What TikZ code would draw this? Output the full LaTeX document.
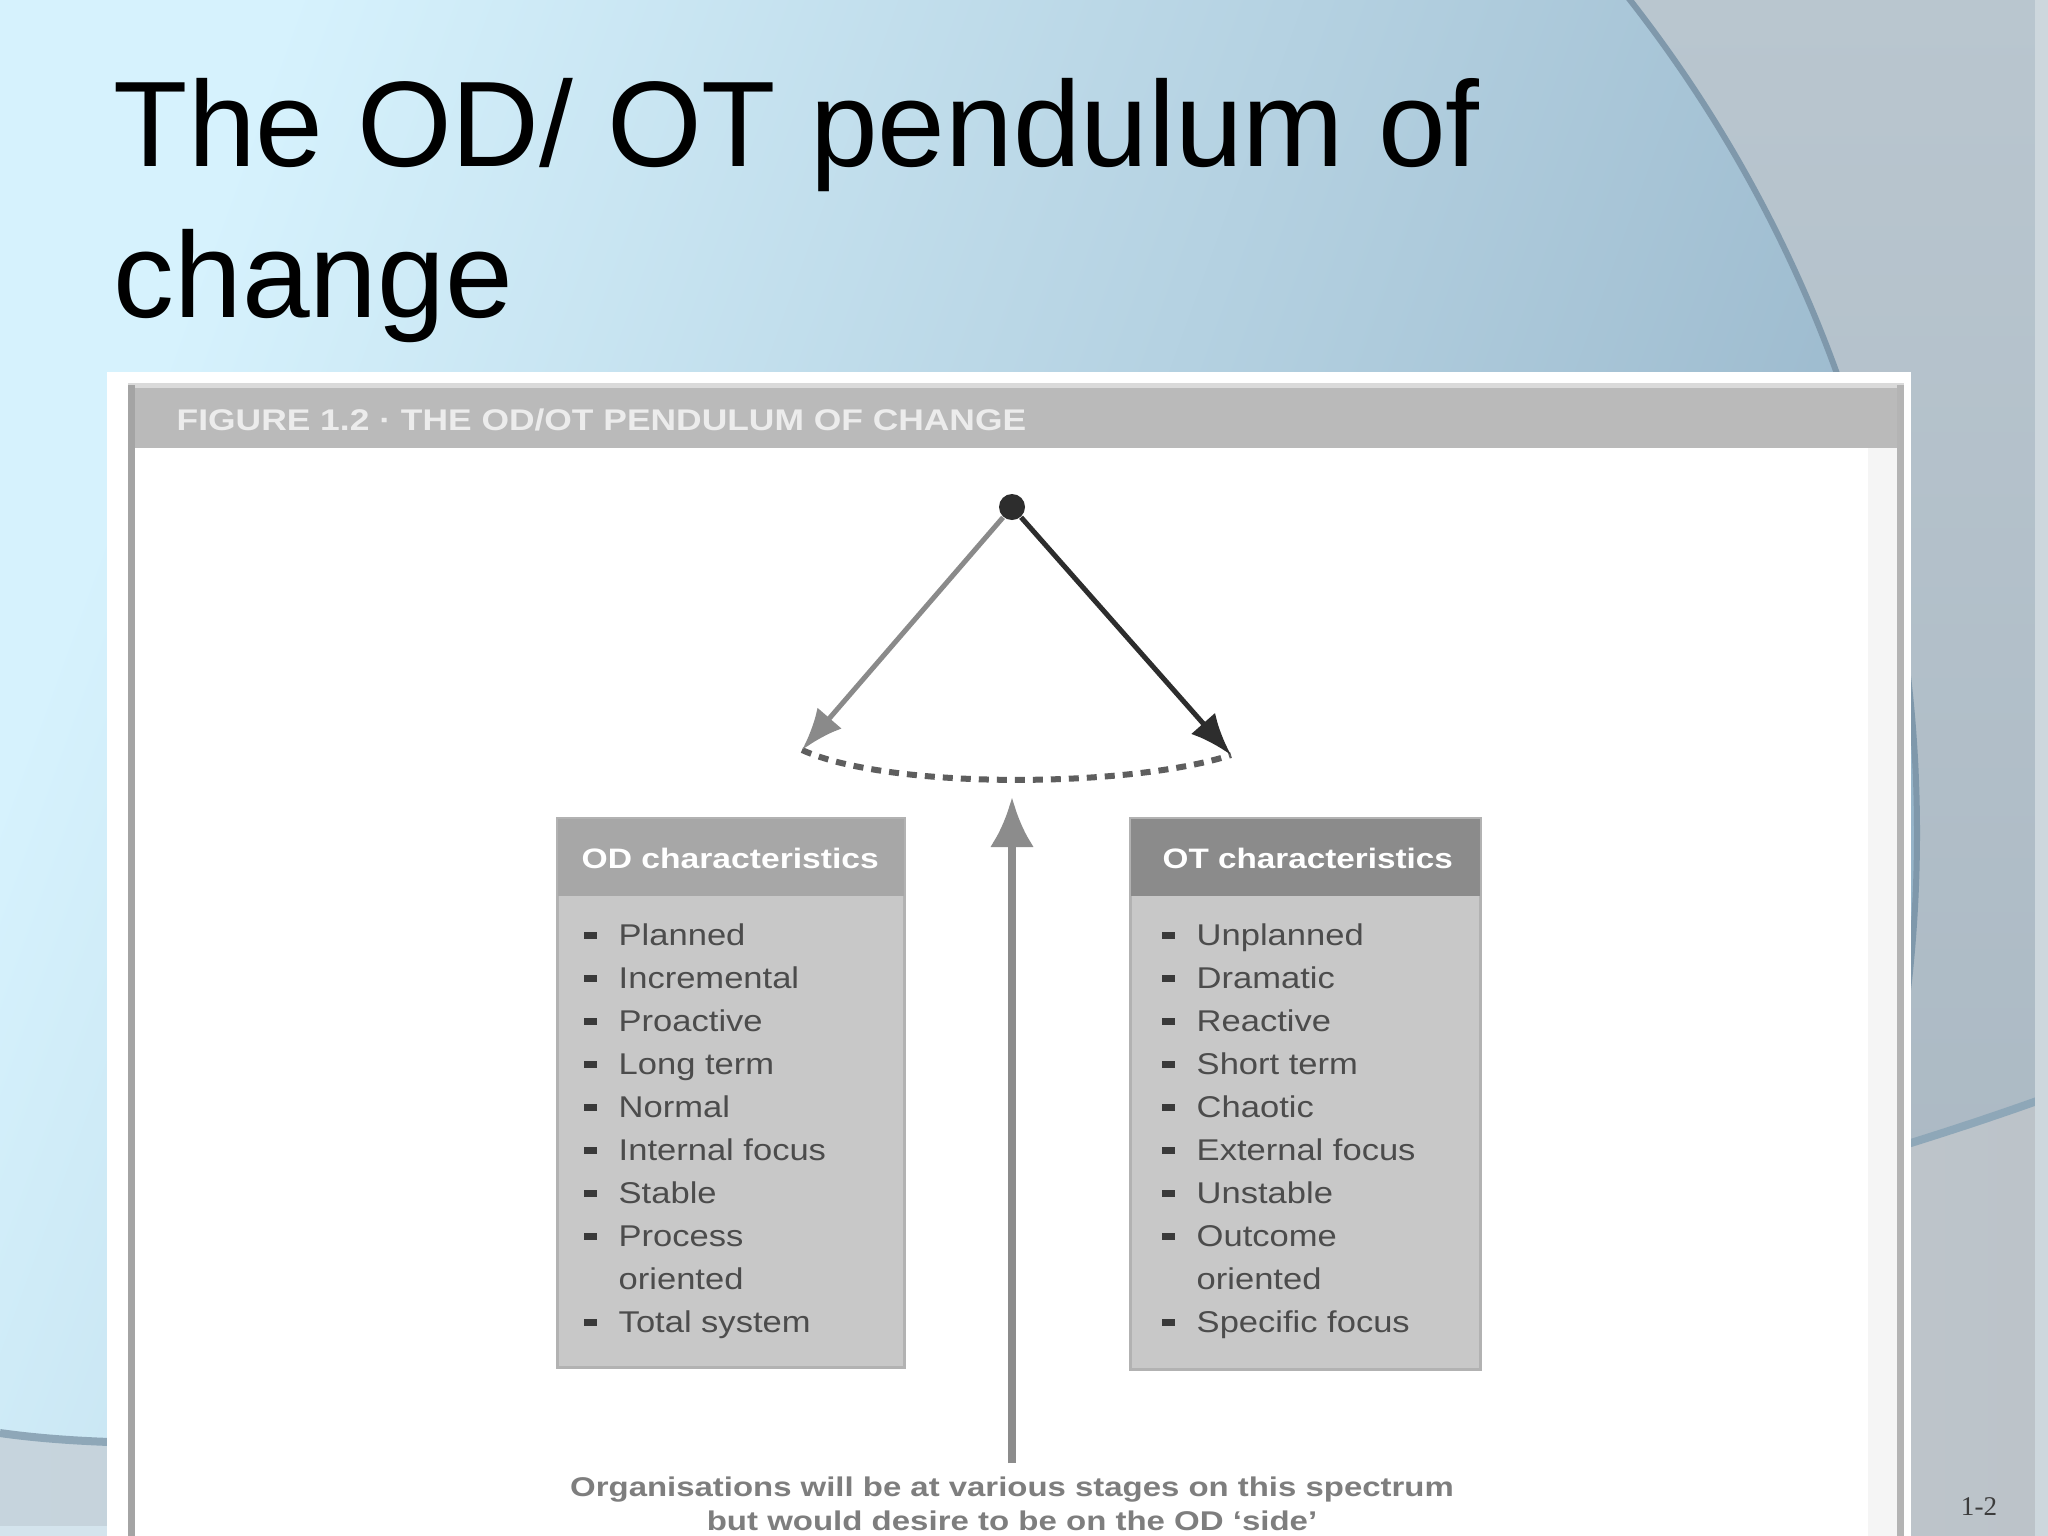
\documentclass[tikz,border=0pt]{standalone}
\usepackage{fontspec}
\setmainfont{Liberation Sans}
\newfontfamily\serifpn{Liberation Serif}
\usepackage{graphicx}
\usetikzlibrary{arrows.meta}

\definecolor{bgA}{HTML}{D6F2FD}
\definecolor{bgB}{HTML}{93B1C6}
\definecolor{outA}{HTML}{B9C6CF}
\definecolor{outB}{HTML}{A8B6C1}
\definecolor{bandA}{HTML}{C6D4DD}
\definecolor{bandB}{HTML}{BCC3C9}
\definecolor{arcC}{HTML}{7F98AB}
\definecolor{bandL}{HTML}{8EA7B8}
\definecolor{frameL}{HTML}{A4A4A4}
\definecolor{frameR}{HTML}{B4B4B4}
\definecolor{capbar}{HTML}{BABABA}
\definecolor{capTxt}{HTML}{ECECEC}
\definecolor{odHead}{HTML}{A7A7A7}
\definecolor{otHead}{HTML}{8B8B8B}
\definecolor{boxBody}{HTML}{C8C8C8}
\definecolor{boxEdge}{HTML}{B2B2B2}
\definecolor{itemC}{HTML}{4C4C4C}
\definecolor{bulC}{HTML}{3A3A3A}
\definecolor{swingL}{HTML}{8A8A8A}
\definecolor{swingR}{HTML}{2D2D2D}
\definecolor{dashC}{HTML}{5E5E5E}
\definecolor{vertC}{HTML}{8C8C8C}
\definecolor{noteC}{HTML}{7E7E7E}
\definecolor{pgC}{HTML}{3C3C3C}
\definecolor{stripL}{HTML}{D4E4ED}
\definecolor{stripR}{HTML}{CDD7DD}
\definecolor{topLine}{HTML}{DADADA}
\definecolor{innerBand}{HTML}{F5F5F5}

\newcommand\sq[1]{\scalebox{1.15}[1]{#1}}
\newcommand\fitw[2]{\resizebox{#1}{\height}{#2}}

\tikzset{
  titletxt/.style={anchor=base west, inner sep=0, text=black, font=\fontsize{34.6pt}{40pt}\selectfont},
  captxt/.style={anchor=base west, inner sep=0, text=capTxt, font=\bfseries\fontsize{8.5pt}{10pt}\selectfont},
  boxbody/.style={draw=boxEdge, line width=0.03cm, fill=boxBody, inner sep=0, minimum width=3.46cm, minimum height=5.48cm},
  odhead/.style={fill=odHead, inner sep=0, minimum width=3.46cm, minimum height=0.77cm},
  othead/.style={fill=otHead, inner sep=0, minimum width=3.49cm, minimum height=0.77cm},
  headtxt/.style={anchor=base west, inner sep=0, text=white, font=\bfseries\fontsize{8pt}{10pt}\selectfont},
  itemtxt/.style={anchor=base west, inner sep=0, text=itemC, font=\fontsize{8.54pt}{10pt}\selectfont},
  bulletbox/.style={fill=bulC, inner sep=0, minimum width=0.13cm, minimum height=0.07cm},
  pivotdot/.style={circle, fill=swingR, inner sep=0, minimum size=0.26cm},
  swingleft/.style={draw=swingL, line width=0.05cm, -{Latex[length=0.42cm,width=0.32cm]}},
  swingright/.style={draw=swingR, line width=0.05cm, -{Latex[length=0.42cm,width=0.32cm]}},
  swingpath/.style={draw=dashC, line width=0.06cm, dash pattern=on 0.1cm off 0.08cm},
  vertarrow/.style={draw=vertC, line width=0.08cm, -{Latex[length=0.5cm,width=0.44cm]}},
  notetxt/.style={anchor=base, inner sep=0, text=noteC, font=\bfseries\fontsize{7.7pt}{9pt}\selectfont},
}

\begin{document}
\begin{tikzpicture}[x=0.01cm,y=-0.01cm]
\useasboundingbox (0,0) rectangle (2048,1536);

% ---------- slide background ----------
\shade[top color=outA, bottom color=outB] (0,0) rectangle (2048,1536);
\begin{scope}
  \clip (565,833) circle [radius=1352];
  \shade[top color=bgA, bottom color=bgB, shading angle=70] (0,0) rectangle (2048,1536);
\end{scope}
\draw[arcC, line width=0.06cm] (565,833) circle [radius=1352];
\shade[left color=bandA, right color=bandB]
  (0,1433) .. controls (400,1490) and (1500,1295) .. (2048,1097) -- (2048,1536) -- (0,1536) -- cycle;
\draw[bandL, line width=0.08cm] (0,1433) .. controls (400,1490) and (1500,1295) .. (2048,1097);
\fill[stripL] (0,1526) rectangle (107,1536);
\fill[stripR] (2035,0) rectangle (2048,1536);

% ---------- title ----------
\node[titletxt] (title1) at (113,166) {The OD/ OT pendulum of};
\node[titletxt] (title2) at (113,317) {change};

% ---------- picture panel ----------
\fill[white] (107,372) rectangle (1911,1536);
\fill[topLine] (128,383) rectangle (1904,388);
\fill[frameL] (128,385) rectangle (135,1536);
\fill[frameR] (1897,385) rectangle (1904,1536);
\fill[innerBand] (1868,448) rectangle (1897,1536);
\fill[capbar] (135,388) rectangle (1897,448);
\node[captxt] (figcap) at (176,430) {\fitw{8.49cm}{FIGURE 1.2 · THE OD/OT PENDULUM OF CHANGE}};

% ---------- OD box ----------
\node[boxbody] (odbox) at (731,1093) {};
\node[odhead] (odhd) at (731,857.5) {};
\node[headtxt] (odtitle) at (581,868) {\fitw{2.97cm}{OD characteristics}};
\foreach \t [count=\i] in {Planned,Incremental,Proactive,Long term,Normal,Internal focus,Stable,Process,oriented,Total system} {
  \node[itemtxt] (oditem\i) at (618,{935+43*(\i-1)+10}) {\sq{\t}};
  \ifnum\i=9\relax\else
    \node[bulletbox] (odbul\i) at (590,{935+43*(\i-1)}) {};
  \fi
}

% ---------- OT box ----------
\node[boxbody, minimum width=3.49cm, minimum height=5.50cm] (otbox) at (1305.5,1094) {};
\node[othead] (othd) at (1305.5,857.5) {};
\node[headtxt] (ottitle) at (1162,868) {\fitw{2.90cm}{OT characteristics}};
\foreach \t [count=\i] in {Unplanned,Dramatic,Reactive,Short term,Chaotic,External focus,Unstable,Outcome,oriented,Specific focus} {
  \node[itemtxt] (otitem\i) at (1196,{935+43*(\i-1)+10}) {\sq{\t}};
  \ifnum\i=9\relax\else
    \node[bulletbox] (otbul\i) at (1168,{935+43*(\i-1)}) {};
  \fi
}

% ---------- pendulum ----------
\node[pivotdot] (pivot) at (1012,507) {};
\coordinate (ltip) at (802,750);
\coordinate (rtip) at (1231,755);
\draw[swingpath] (ltip) .. controls (890,790) and (1130,788) .. (rtip);
\draw[swingleft] (pivot) -- (ltip);
\draw[swingright] (pivot) -- (rtip);

\coordinate (vbase) at (1012,1463);
\coordinate (vtip) at (1012,797);
\draw[vertarrow] (vbase) -- (vtip);

% ---------- note ----------
\node[notetxt] (note1) at (1012,1496) {\fitw{8.83cm}{Organisations will be at various stages on this spectrum}};
\node[notetxt] (note2) at (1012,1530) {\fitw{6.10cm}{but would desire to be on the OD ‘side’}};

% ---------- page number ----------
\node[anchor=base, inner sep=0, text=pgC, font=\serifpn\fontsize{7.7pt}{9pt}\selectfont] (pgno) at (1979,1515) {1-2};
\end{tikzpicture}
\end{document}
